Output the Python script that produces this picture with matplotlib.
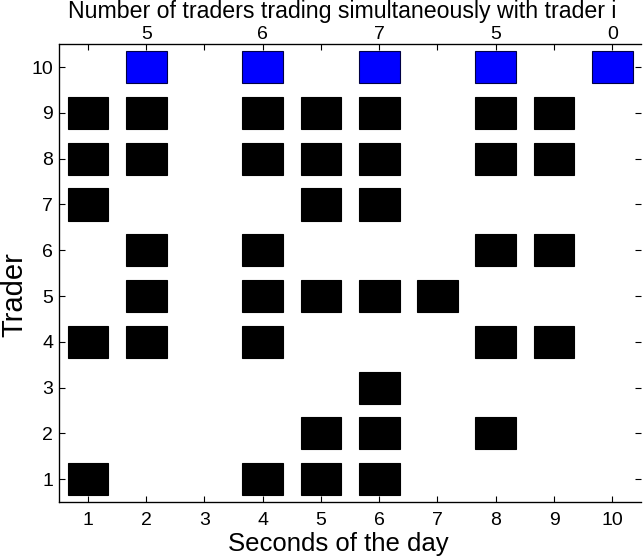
import numpy as np
import matplotlib
matplotlib.use('Agg')
import matplotlib.pyplot as plt
from matplotlib.patches import Rectangle

plt.rcParams['font.family'] = ['Liberation Sans', 'DejaVu Sans']

# trades of the other traders: (second, trader)
trade_seconds = [1, 2, 4, 5, 6, 8, 9,
                 1, 2, 4, 5, 6, 8, 9,
                 1, 5, 6,
                 2, 4, 8, 9,
                 2, 4, 5, 6, 7,
                 1, 2, 4, 8, 9,
                 6,
                 5, 6, 8,
                 1, 4, 5, 6]
trade_traders = [9] * 7 + [8] * 7 + [7] * 3 + [6] * 4 + [5] * 5 + [4] * 5 + [3] + [2] * 3 + [1] * 4

# trades of trader i (trader 10)
i_seconds = [2, 4, 6, 8, 10]
i_trader = 10
simultaneous = [5, 6, 7, 5, 0]

seconds = np.arange(1, 11)
traders = np.arange(1, 11)
box = 0.7

fig = plt.figure(figsize=(6.43, 5.57), dpi=100)
ax = fig.add_axes([0.0915, 0.0987, 0.906, 0.8218])

for s, t in zip(trade_seconds, trade_traders):
    ax.add_patch(Rectangle((s - box / 2, t - box / 2), box, box,
                           facecolor='black', edgecolor='black', lw=0.8))
for s in i_seconds:
    ax.add_patch(Rectangle((s - box / 2, i_trader - box / 2), box, box,
                           facecolor='#0000ff', edgecolor='#000044', lw=0.8))

ax.set_xlim(0.5, 10.5)
ax.set_ylim(0.5, 10.5)
ax.set_xticks(seconds)
ax.set_yticks(traders)
ax.tick_params(direction='in', length=4, width=0.8, labelsize=14,
               top=True, right=True)
ax.tick_params(axis='x', pad=7)
ax.tick_params(axis='y', pad=4)
for sp in ax.spines.values():
    sp.set_linewidth(0.9)
ax.spines['right'].set_visible(False)

top = ax.twiny()
top.set_xlim(ax.get_xlim())
top.set_xticks(i_seconds)
top.set_xticklabels([str(n) for n in simultaneous])
top.set_xticks(seconds, minor=True)
top.tick_params(which='both', direction='in', length=4, width=0.8,
                labelsize=14, pad=1)
top.spines['right'].set_visible(False)

# axis titles, placed as in the reference
fig.text(342 / 643, 1 - 18 / 557,
         'Number of traders trading simultaneously with trader i',
         fontsize=16.7, ha='center', va='baseline')
fig.text(338 / 643, 1 - 551 / 557, 'Seconds of the day',
         fontsize=18.5, ha='center', va='baseline')
fig.text(14 / 643, 1 - 294.5 / 557, 'Trader', fontsize=21,
         rotation=90, ha='center', va='center')

fig.savefig('out.png', dpi=100)
